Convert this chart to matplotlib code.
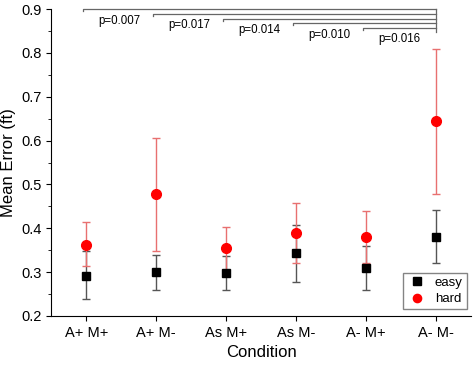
import matplotlib
matplotlib.use("Agg")
import matplotlib.pyplot as plt
from matplotlib.ticker import MultipleLocator

plt.rcParams['font.family'] = ['Liberation Sans', 'DejaVu Sans']

conditions = ['A+ M+', 'A+ M-', 'As M+', 'As M-', 'A- M+', 'A- M-']
easy_mean = [0.292, 0.300, 0.298, 0.343, 0.310, 0.381]
easy_low = [0.238, 0.260, 0.260, 0.278, 0.260, 0.321]
easy_high = [0.348, 0.340, 0.337, 0.408, 0.360, 0.441]
hard_mean = [0.362, 0.477, 0.354, 0.388, 0.380, 0.645]
hard_low = [0.313, 0.348, 0.302, 0.320, 0.320, 0.478]
hard_high = [0.415, 0.605, 0.403, 0.457, 0.440, 0.810]
p_values = ['p=0.007', 'p=0.017', 'p=0.014', 'p=0.010', 'p=0.016']

x = list(range(1, len(conditions) + 1))

fig = plt.figure(figsize=(4.74, 3.66), dpi=100)
ax = fig.add_axes([0.108, 0.137, 0.886, 0.838])

easy_err = [[m - l for m, l in zip(easy_mean, easy_low)],
            [h - m for m, h in zip(easy_mean, easy_high)]]
hard_err = [[m - l for m, l in zip(hard_mean, hard_low)],
            [h - m for m, h in zip(hard_mean, hard_high)]]

ax.errorbar(x, easy_mean, yerr=easy_err, fmt='none', ecolor='#555555',
            elinewidth=1, capsize=3, capthick=1, zorder=2)
ax.errorbar(x, hard_mean, yerr=hard_err, fmt='none', ecolor='#e87070',
            elinewidth=1, capsize=3, capthick=1, zorder=2)
ax.plot(x, easy_mean, 's', color='black', markersize=6, label='easy', zorder=3)
ax.plot(x, hard_mean, 'o', color='#ff0000', markersize=7, label='hard', zorder=4)

# significance brackets
levels = [0.9, 0.889, 0.878, 0.868, 0.857]
for i, (lvl, txt) in enumerate(zip(levels, p_values)):
    x0 = x[i] - 0.04
    ax.plot([x0, x0, x[-1]], [lvl - 0.005, lvl, lvl], color='#666666',
            lw=0.9, clip_on=False)
    ax.text((x[i] + x[i + 1]) / 2 - 0.02, lvl - 0.026, txt, fontsize=8.3,
            ha='center', va='center')
ax.plot([x[-1], x[-1]], [levels[0], 0.848], color='#666666', lw=0.9, clip_on=False)

ax.set_xlim(0.5, 6.5)
ax.set_ylim(0.2, 0.9)
ax.set_xticks(x)
ax.set_xticklabels(conditions)
ax.yaxis.set_major_locator(MultipleLocator(0.1))
ax.yaxis.set_minor_locator(MultipleLocator(0.05))
ax.tick_params(labelsize=10.5, direction='out')
ax.spines['top'].set_visible(False)
ax.spines['right'].set_visible(False)
ax.set_xlabel('Condition', fontsize=12)
ax.set_ylabel('Mean Error (ft)', fontsize=12)

leg = ax.legend(loc='lower right', fontsize=9.5, fancybox=False, edgecolor='#666666',
                handletextpad=0.6, handlelength=1.5, borderpad=0.3, labelspacing=0.3,
                markerscale=0.85, bbox_to_anchor=(1.005, 0.0))

fig.savefig('out.png', dpi=100)
